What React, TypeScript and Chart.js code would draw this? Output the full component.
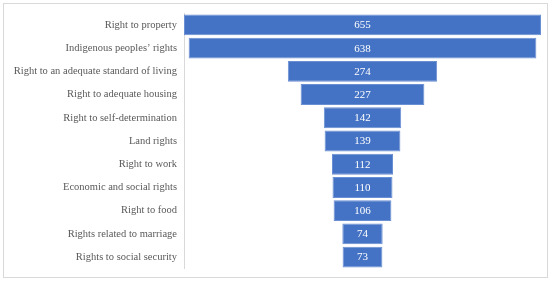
import React, { useEffect, useRef } from "react";
import { Chart, registerables } from "chart.js";

Chart.register(...registerables);

const categories = [
  "Right to property",
  "Indigenous peoples’ rights",
  "Right to an adequate standard of living",
  "Right to adequate housing",
  "Right to self-determination",
  "Land rights",
  "Right to work",
  "Economic and social rights",
  "Right to food",
  "Rights related to marriage",
  "Rights to social security",
];

const values = [655, 638, 274, 227, 142, 139, 112, 110, 106, 74, 73];

const valueLabels = values.map((v) => String(v));

const labelFont = "'Liberation Serif', serif";

export default function App() {
  const canvasRef = useRef<HTMLCanvasElement | null>(null);

  useEffect(() => {
    const canvas = canvasRef.current;
    if (!canvas) return;
    const maxV = Math.max(...values);

    const valuePlugin = {
      id: "valueLabels",
      afterDatasetsDraw(chart: any) {
        const ctx = chart.ctx;
        const meta = chart.getDatasetMeta(0);
        ctx.save();
        ctx.fillStyle = "#ffffff";
        ctx.font = "11px 'Liberation Serif', serif";
        ctx.textAlign = "center";
        ctx.textBaseline = "middle";
        meta.data.forEach((bar: any, i: number) => {
          const p = bar.getProps(["x", "base", "y"], true);
          const cx = (p.x + p.base) / 2;
          ctx.fillText(valueLabels[i], cx, p.y + 0.5);
        });
        ctx.restore();
      },
    };

    const chart = new Chart(canvas, {
      type: "bar",
      data: {
        labels: categories,
        datasets: [
          {
            data: values.map((v) => [-v / 2, v / 2]) as any,
            backgroundColor: "#4472C4",
            borderColor: "#6a8fd3",
            borderWidth: 1,
            borderSkipped: false,
            barPercentage: 0.9,
            categoryPercentage: 1,
          },
        ],
      },
      options: {
        indexAxis: "y",
        animation: false,
        responsive: false,
        maintainAspectRatio: false,
        layout: { padding: { left: 0, right: 9, top: 11, bottom: 13 } },
        plugins: {
          legend: { display: false },
          tooltip: { enabled: false },
        },
        scales: {
          x: {
            display: false,
            min: -maxV / 2,
            max: maxV / 2,
          },
          y: {
            afterFit(scale: any) {
              scale.width = 184;
            },
            grid: { display: false, drawTicks: false },
            border: { display: true, color: "#d9d9d9", width: 1 },
            ticks: {
              color: "#595959",
              padding: 7,
              font: { family: labelFont, size: 10.5 },
            },
          },
        },
      },
      plugins: [valuePlugin],
    });
    return () => chart.destroy();
  }, []);

  return (
    <div style={{ position: "fixed", left: 0, top: 0, width: 550, height: 282, background: "#fff" }}>
      <div
        style={{
          position: "absolute",
          left: 3,
          top: 3,
          width: 543,
          height: 273,
          border: "1px solid #d9d9d9",
        }}
      />
      <canvas
        ref={canvasRef}
        width={550}
        height={282}
        style={{ position: "absolute", left: 0, top: 0, width: 550, height: 282 }}
      />
    </div>
  );
}
